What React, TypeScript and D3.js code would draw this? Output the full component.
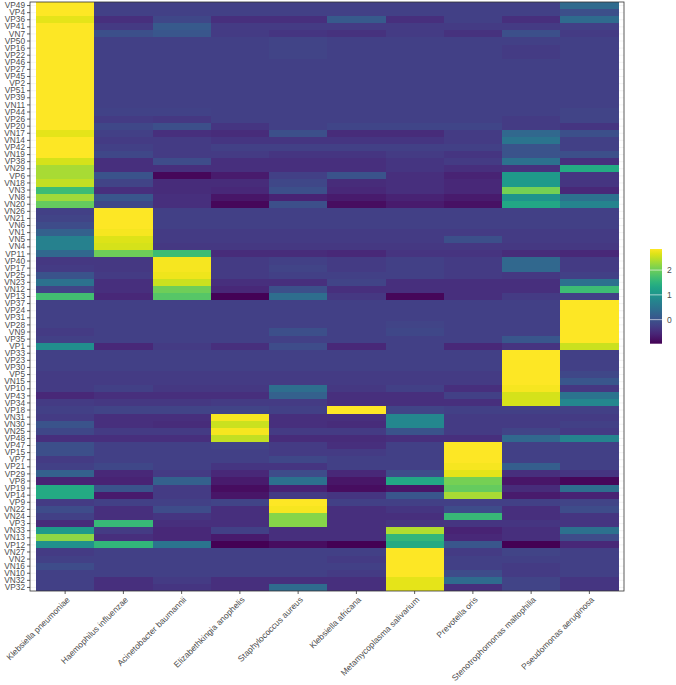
import React, { useEffect, useRef } from 'react'
import * as d3 from 'd3'

// sample ids, top to bottom
const samples = [
  'VP49', 'VP4', 'VP36', 'VP41', 'VN7', 'VP50', 'VP16', 'VP22', 'VP46', 'VP27',
  'VP45', 'VP2', 'VP51', 'VP39', 'VN11', 'VP44', 'VP26', 'VP20', 'VN17', 'VN14',
  'VP42', 'VN19', 'VP38', 'VN29', 'VP6', 'VN18', 'VN3', 'VN8', 'VN20', 'VN26',
  'VN21', 'VN6', 'VN1', 'VN5', 'VN4', 'VP11', 'VP40', 'VP17', 'VP25', 'VN23',
  'VN12', 'VP13', 'VP37', 'VP24', 'VP31', 'VP28', 'VN9', 'VP35', 'VP1', 'VP33',
  'VP23', 'VP30', 'VP5', 'VN15', 'VP10', 'VP43', 'VP34', 'VP18', 'VN31', 'VN30',
  'VN25', 'VP48', 'VP47', 'VP15', 'VP7', 'VP21', 'VP29', 'VP8', 'VP19', 'VP14',
  'VP9', 'VN22', 'VN24', 'VP3', 'VN33', 'VN13', 'VP12', 'VN27', 'VN2', 'VN16',
  'VN10', 'VN32', 'VP32',
]

const species = [
  'Klebsiella pneumoniae',
  'Haemophilus influenzae',
  'Acinetobacter baumannii',
  'Elizabethkingia anophelis',
  'Staphylococcus aureus',
  'Klebsiella africana',
  'Metamycoplasma salivarium',
  'Prevotella oris',
  'Stenotrophomonas maltophilia',
  'Pseudomonas aeruginosa',
]

// scaled abundance per species, one value per sample (same order as samples)
const kPneumoniae = [
  2.85, 2.85, 2.7, 2.85, 2.85, 2.85, 2.85, 2.85, 2.85, 2.85,
  2.85, 2.85, 2.85, 2.85, 2.85, 2.85, 2.85, 2.85, 2.7, 2.85,
  2.85, 2.85, 2.6, 2.35, 2.35, 2.5, 1.65, 2.3, 1.95, -0.25,
  -0.2, -0.1, 0.2, 0.7, 0.7, 0.3, -0.35, -0.3, 0.0, 0.45,
  -0.2, 1.7, -0.25, -0.25, -0.25, -0.25, -0.3, -0.25, 0.9, -0.25,
  -0.25, -0.25, -0.3, -0.3, -0.3, -0.55, -0.3, -0.25, -0.3, 0.0,
  -0.15, -0.45, -0.05, -0.05, -0.3, -0.25, 0.2, -0.6, 1.35, 1.35,
  -0.3, -0.1, -0.25, -0.5, 1.1, 2.2, 0.95, -0.3, -0.25, -0.1,
  -0.25, -0.25, -0.25,
]
const hInfluenzae = [
  -0.25, -0.25, -0.45, -0.32, -0.05, -0.25, -0.25, -0.25, -0.25, -0.25,
  -0.25, -0.25, -0.25, -0.25, -0.25, -0.22, -0.3, -0.15, -0.25, -0.3,
  -0.25, -0.15, -0.45, -0.45, 0.0, -0.2, -0.45, 0.05, -0.15, 2.85,
  2.85, 2.85, 2.8, 2.65, 2.6, 2.0, -0.35, -0.35, -0.3, -0.45,
  -0.45, -0.55, -0.25, -0.25, -0.25, -0.25, -0.25, -0.25, -0.55, -0.25,
  -0.25, -0.25, -0.3, -0.3, -0.25, -0.45, -0.35, -0.2, -0.45, -0.45,
  -0.3, -0.45, -0.25, -0.25, -0.25, -0.15, -0.55, -0.6, 0.0, -0.7,
  -0.25, -0.45, -0.45, 1.6, -0.3, -0.45, 1.55, -0.25, -0.25, -0.25,
  -0.25, -0.45, -0.45,
]
const aBaumannii = [
  -0.25, -0.25, -0.15, 0.1, 0.05, -0.25, -0.25, -0.25, -0.25, -0.25,
  -0.25, -0.25, -0.25, -0.25, -0.25, -0.22, -0.35, -0.05, -0.45, -0.3,
  -0.3, -0.3, -0.1, -0.45, -0.9, -0.5, -0.5, -0.45, -0.45, -0.25,
  -0.25, -0.25, -0.3, -0.3, -0.35, 1.65, 2.8, 2.8, 2.75, 2.55,
  2.0, 1.85, -0.25, -0.25, -0.25, -0.25, -0.25, -0.25, -0.3, -0.25,
  -0.25, -0.25, -0.3, -0.3, -0.35, -0.45, -0.35, -0.2, -0.45, -0.5,
  -0.3, -0.45, -0.25, -0.25, -0.25, -0.25, -0.3, 0.2, -0.3, -0.3,
  -0.25, -0.1, -0.38, -0.45, -0.55, -0.55, 0.5, -0.25, -0.25, -0.25,
  -0.25, -0.3, -0.38,
]
const eAnophelis = [
  -0.25, -0.25, -0.45, -0.3, -0.3, -0.25, -0.25, -0.25, -0.25, -0.25,
  -0.25, -0.25, -0.25, -0.25, -0.25, -0.25, -0.25, -0.38, -0.5, -0.38,
  -0.25, -0.3, -0.45, -0.45, -0.7, -0.5, -0.55, -0.75, -0.9, -0.25,
  -0.25, -0.25, -0.3, -0.3, -0.35, -0.5, -0.3, -0.3, -0.3, -0.45,
  -0.55, -0.95, -0.25, -0.25, -0.25, -0.25, -0.25, -0.25, -0.45, -0.25,
  -0.25, -0.25, -0.3, -0.3, -0.35, -0.45, -0.3, -0.2, 2.8, 2.55,
  2.8, 2.5, -0.2, -0.25, -0.25, -0.38, -0.55, -0.7, -0.85, -0.75,
  -0.2, -0.45, -0.45, -0.45, -0.25, -0.7, -0.97, -0.25, -0.25, -0.25,
  -0.25, -0.45, -0.45,
]
const sAureus = [
  -0.25, -0.25, -0.45, -0.3, -0.38, -0.2, -0.2, -0.2, -0.25, -0.25,
  -0.25, -0.25, -0.25, -0.25, -0.25, -0.25, -0.25, -0.25, -0.05, -0.38,
  -0.25, -0.38, -0.45, -0.45, -0.25, -0.15, -0.05, -0.6, -0.05, -0.25,
  -0.25, -0.25, -0.3, -0.3, -0.35, -0.5, -0.25, -0.2, -0.25, -0.45,
  -0.05, 0.4, -0.25, -0.25, -0.25, -0.25, -0.05, -0.25, -0.1, -0.25,
  -0.25, -0.25, -0.3, -0.3, 0.4, 0.2, -0.3, -0.25, -0.45, -0.45,
  -0.3, -0.5, -0.3, -0.3, -0.15, -0.38, -0.1, 0.45, -0.6, -0.3,
  2.85, 2.8, 2.15, 2.15, -0.45, -0.45, -0.85, -0.25, -0.25, -0.25,
  -0.25, -0.45, 0.35,
]
const kAfricana = [
  -0.25, -0.25, 0.1, -0.3, -0.42, -0.25, -0.25, -0.25, -0.25, -0.25,
  -0.25, -0.25, -0.25, -0.25, -0.25, -0.25, -0.25, -0.18, -0.5, -0.38,
  -0.25, -0.38, -0.45, -0.45, 0.0, -0.5, -0.55, -0.7, -0.85, -0.25,
  -0.25, -0.25, -0.3, -0.3, -0.35, -0.55, -0.3, -0.3, -0.25, -0.2,
  -0.45, -0.35, -0.25, -0.25, -0.25, -0.25, -0.25, -0.25, -0.55, -0.25,
  -0.25, -0.25, -0.3, -0.3, -0.35, -0.45, -0.45, 2.85, -0.45, -0.5,
  -0.3, -0.5, -0.45, -0.3, -0.25, -0.25, -0.55, -0.75, -0.85, -0.38,
  -0.25, -0.45, -0.45, -0.45, -0.45, -0.45, -0.97, -0.25, -0.3, -0.25,
  -0.3, -0.45, -0.45,
]
const mSalivarium = [
  -0.25, -0.25, -0.45, -0.3, -0.3, -0.25, -0.25, -0.25, -0.25, -0.25,
  -0.25, -0.25, -0.25, -0.25, -0.25, -0.25, -0.25, -0.18, -0.5, -0.38,
  -0.25, -0.3, -0.38, -0.38, -0.45, -0.45, -0.45, -0.6, -0.7, -0.25,
  -0.25, -0.25, -0.3, -0.3, -0.35, -0.4, -0.25, -0.25, -0.25, -0.45,
  -0.45, -0.9, -0.25, -0.25, -0.25, -0.2, -0.15, -0.25, -0.25, -0.25,
  -0.25, -0.25, -0.3, -0.3, -0.25, -0.45, -0.45, -0.2, 0.8, 0.8,
  0.0, -0.45, -0.25, -0.25, -0.25, -0.25, -0.1, 1.3, -0.75, 0.05,
  -0.25, -0.38, -0.45, -0.38, 2.4, 1.55, 1.35, 2.85, 2.85, 2.85,
  2.85, 2.7, 2.7,
]
const pOris = [
  -0.25, -0.25, -0.25, -0.3, -0.42, -0.25, -0.25, -0.25, -0.25, -0.25,
  -0.25, -0.25, -0.25, -0.25, -0.25, -0.25, -0.25, -0.18, -0.3, -0.3,
  -0.25, -0.38, -0.3, -0.45, -0.6, -0.55, -0.55, -0.7, -0.8, -0.25,
  -0.25, -0.25, -0.3, -0.05, -0.35, -0.4, -0.3, -0.3, -0.3, -0.45,
  -0.45, -0.45, -0.25, -0.25, -0.25, -0.25, -0.25, -0.25, -0.55, -0.25,
  -0.25, -0.25, -0.3, -0.3, -0.45, -0.25, -0.45, -0.25, -0.3, -0.3,
  -0.3, -0.45, 2.85, 2.85, 2.85, 2.8, 2.7, 2.05, 1.95, 2.35,
  -0.25, -0.1, 1.6, -0.38, -0.6, -0.55, 0.05, -0.3, -0.25, -0.25,
  -0.1, 0.35, -0.45,
]
const sMaltophilia = [
  -0.25, -0.25, -0.45, -0.3, -0.05, -0.25, -0.3, -0.3, -0.25, -0.25,
  -0.25, -0.25, -0.25, -0.25, -0.25, -0.25, -0.3, -0.3, 0.3, 0.5,
  0.0, 0.0, 0.45, -0.42, 1.1, 1.1, 2.05, 1.0, 1.3, -0.25,
  -0.25, -0.25, -0.3, -0.3, -0.35, -0.5, 0.3, 0.3, -0.35, -0.45,
  -0.45, -0.3, -0.25, -0.25, -0.25, -0.25, -0.25, 0.05, -0.4, 2.85,
  2.85, 2.85, 2.85, 2.85, 2.8, 2.6, 2.6, -0.25, -0.3, -0.3,
  -0.2, 0.3, -0.25, -0.25, -0.25, 0.15, -0.45, -0.75, -0.5, -0.7,
  -0.25, -0.45, -0.45, -0.38, -0.45, -0.45, -0.97, -0.2, -0.25, -0.3,
  -0.3, -0.2, -0.2,
]
const pAeruginosa = [
  0.35, -0.05, 0.35, -0.25, -0.3, -0.25, -0.25, -0.25, -0.25, -0.25,
  -0.25, -0.25, -0.25, -0.25, -0.25, -0.2, -0.2, -0.38, -0.05, -0.25,
  -0.25, -0.05, -0.45, 1.35, -0.38, -0.38, -0.55, 0.45, 0.75, -0.25,
  -0.25, -0.25, -0.3, -0.3, -0.35, -0.55, -0.3, -0.3, -0.25, 0.45,
  1.65, -0.25, 2.85, 2.85, 2.85, 2.85, 2.85, 2.85, 2.55, -0.25,
  -0.25, -0.25, -0.15, 0.05, -0.35, 0.5, 0.8, -0.25, -0.3, -0.25,
  -0.3, 0.75, -0.25, -0.25, -0.25, -0.25, -0.38, -0.9, 0.4, -0.6,
  -0.2, -0.1, -0.38, -0.38, 0.45, -0.1, -0.55, -0.25, -0.25, -0.25,
  -0.25, -0.38, -0.38,
]

const columns = [
  kPneumoniae, hInfluenzae, aBaumannii, eAnophelis, sAureus,
  kAfricana, mSalivarium, pOris, sMaltophilia, pAeruginosa,
]

const legendTicks = [0, 1, 2]
const valueRange: [number, number] = [-0.97, 2.85]

interface Cell {
  row: string
  col: string
  value: number
}

const FONT = '"Liberation Sans", Arial, Helvetica, sans-serif'

const App: React.FC = () => {
  const svgRef = useRef<SVGSVGElement>(null)

  useEffect(() => {
    if (!svgRef.current) return
    const svg = d3.select(svgRef.current)
    svg.selectAll('*').remove()

    const cells: Cell[] = []
    species.forEach((sp, j) => {
      columns[j].forEach((v, i) => cells.push({ row: samples[i], col: sp, value: v }))
    })

    // panel box (small horizontal expansion, like ggplot)
    const panel = { left: 30, right: 624, top: 2, bottom: 591 }

    const x = d3.scaleBand().domain(species).range([36, 618.5]).padding(0)
    const y = d3.scaleBand().domain(samples).range([panel.top, panel.bottom]).padding(0)
    const color = d3.scaleSequential(d3.interpolateViridis).domain(valueRange)

    svg.append('rect').attr('width', 676).attr('height', 685).attr('fill', '#FFFFFF')

    // panel grid
    svg
      .append('g')
      .selectAll('line')
      .data(samples)
      .enter()
      .append('line')
      .attr('x1', panel.left)
      .attr('x2', panel.right)
      .attr('y1', (d) => (y(d) || 0) + y.bandwidth() / 2)
      .attr('y2', (d) => (y(d) || 0) + y.bandwidth() / 2)
      .attr('stroke', '#EBEBEB')
      .attr('stroke-width', 0.6)

    // tiles
    svg
      .append('g')
      .selectAll('rect')
      .data(cells)
      .enter()
      .append('rect')
      .attr('x', (d) => x(d.col) || 0)
      .attr('y', (d) => y(d.row) || 0)
      .attr('width', x.bandwidth())
      .attr('height', y.bandwidth())
      .attr('fill', (d) => color(d.value))
      .attr('shape-rendering', 'crispEdges')

    // panel border
    svg
      .append('rect')
      .attr('x', panel.left)
      .attr('y', panel.top)
      .attr('width', panel.right - panel.left)
      .attr('height', panel.bottom - panel.top)
      .attr('fill', 'none')
      .attr('stroke', '#333333')
      .attr('stroke-width', 0.8)

    // Y axis
    const yAxis = svg
      .append('g')
      .attr('transform', `translate(${panel.left},0)`)
      .call(d3.axisLeft(y).tickSize(3).tickPadding(2))
    yAxis.select('.domain').remove()
    yAxis.selectAll('.tick line').attr('stroke', '#333333').attr('stroke-width', 0.8)
    yAxis
      .selectAll('text')
      .attr('fill', '#4D4D4D')
      .attr('font-size', '8.3px')
      .attr('font-family', FONT)

    // X axis
    const xAxis = svg
      .append('g')
      .attr('transform', `translate(0,${panel.bottom})`)
      .call(d3.axisBottom(x).tickSize(3).tickFormat(() => ''))
    xAxis.select('.domain').remove()
    xAxis.selectAll('.tick line').attr('stroke', '#333333').attr('stroke-width', 0.8)

    svg
      .append('g')
      .selectAll('text')
      .data(species)
      .enter()
      .append('text')
      .attr(
        'transform',
        (d) => `translate(${(x(d) || 0) + x.bandwidth() / 2 + 1},${panel.bottom + 5}) rotate(-45)`
      )
      .attr('text-anchor', 'end')
      .attr('dy', '0.72em')
      .attr('fill', '#4D4D4D')
      .attr('font-size', '8.5px')
      .attr('font-family', FONT)
      .text((d) => d)

    // legend colour bar
    const bar = { x: 650, width: 12, top: 249, bottom: 343.7 }
    const legendScale = d3.scaleLinear().domain(valueRange).range([bar.bottom, bar.top])

    const defs = svg.append('defs')
    const grad = defs
      .append('linearGradient')
      .attr('id', 'viridis-bar')
      .attr('x1', '0')
      .attr('x2', '0')
      .attr('y1', '1')
      .attr('y2', '0')
    d3.range(0, 1.0001, 0.05).forEach((t) => {
      grad
        .append('stop')
        .attr('offset', `${t * 100}%`)
        .attr('stop-color', d3.interpolateViridis(t))
    })

    const legend = svg.append('g')
    legend
      .append('rect')
      .attr('x', bar.x)
      .attr('y', bar.top)
      .attr('width', bar.width)
      .attr('height', bar.bottom - bar.top)
      .attr('fill', 'url(#viridis-bar)')

    legend
      .selectAll('line')
      .data(legendTicks)
      .enter()
      .append('line')
      .attr('x1', bar.x)
      .attr('x2', bar.x + bar.width)
      .attr('y1', (d) => legendScale(d))
      .attr('y2', (d) => legendScale(d))
      .attr('stroke', '#FFFFFF')
      .attr('stroke-opacity', 0.75)
      .attr('stroke-width', 0.8)

    legend
      .selectAll('text')
      .data(legendTicks)
      .enter()
      .append('text')
      .attr('x', bar.x + bar.width + 5)
      .attr('y', (d) => legendScale(d))
      .attr('dy', '0.35em')
      .attr('fill', '#4D4D4D')
      .attr('font-size', '8.5px')
      .attr('font-family', FONT)
      .text((d) => String(d))
  }, [])

  return (
    <svg
      ref={svgRef}
      width={676}
      height={685}
      style={{ position: 'absolute', left: 0, top: 0, display: 'block' }}
    />
  )
}

export default App
